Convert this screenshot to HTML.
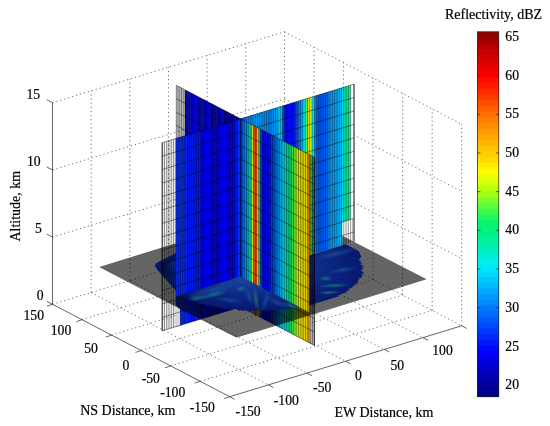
<!DOCTYPE html><html><head><meta charset="utf-8"><title>Reflectivity slices</title><style>html,body{margin:0;padding:0;background:#fff}svg{display:block}text{font-family:"Liberation Serif","Times New Roman",serif;stroke:#000;stroke-width:.2px}</style></head><body><svg width="550" height="426" viewBox="0 0 550 426" fill="#000"><path d="M91.16 292.49L268.38 384.88M129.83 280.67L307.04 373.07M168.5 268.86L345.71 361.25M207.16 257.04L384.37 349.44M245.82 245.23L423.03 337.62M284.49 233.41L461.7 325.81M52.5 304.3L284.49 233.41M82.03 319.7L314.03 248.81M111.57 335.1L343.56 264.21M141.11 350.5L373.1 279.61M170.64 365.9L402.63 295.01M200.18 381.3L432.17 310.41M91.16 292.49L91.16 90.89M129.83 280.67L129.83 79.07M168.5 268.86L168.5 67.26M207.16 257.04L207.16 55.44M245.82 245.23L245.82 43.63M284.49 233.41L284.49 31.81M52.5 237.1L284.49 166.21M52.5 169.9L284.49 99.01M52.5 102.7L284.49 31.81M314.03 248.81L314.03 47.21M343.56 264.21L343.56 62.61M373.1 279.61L373.1 78.01M402.63 295.01L402.63 93.41M432.17 310.41L432.17 108.81M461.7 325.81L461.7 124.21M284.49 166.21L461.7 258.61M284.49 99.01L461.7 191.41M284.49 31.81L461.7 124.21" stroke="#000" stroke-width="0.8" stroke-dasharray="1.2 2.9" stroke-opacity="0.7" fill="none"/>
<defs><clipPath id="cc"><path d="M-24 -105H24V-101.75H-24ZM-36 -102H36V-98.75H-36ZM-42 -99H42V-95.75H-42ZM-48 -96H48V-92.75H-48ZM-54 -93H54V-89.75H-54ZM-60 -90H60V-86.75H-60ZM-63 -87H63V-83.75H-63ZM-66 -84H66V-80.75H-66ZM-72 -81H72V-77.75H-72ZM-75 -78H75V-74.75H-75ZM-78 -75H78V-71.75H-78ZM-81 -72H81V-68.75H-81ZM-81 -69H81V-65.75H-81ZM-84 -66H84V-62.75H-84ZM-87 -63H87V-59.75H-87ZM-90 -60H90V-56.75H-90ZM-90 -57H90V-53.75H-90ZM-93 -54H93V-50.75H-93ZM-93 -51H93V-47.75H-93ZM-96 -48H96V-44.75H-96ZM-96 -45H96V-41.75H-96ZM-99 -42H99V-38.75H-99ZM-99 -39H99V-35.75H-99ZM-102 -36H102V-32.75H-102ZM-102 -33H102V-29.75H-102ZM-102 -30H102V-26.75H-102ZM-102 -27H102V-23.75H-102ZM-105 -24H105V-20.75H-105ZM-105 -21H105V-17.75H-105ZM-105 -18H105V-14.75H-105ZM-105 -15H105V-11.75H-105ZM-105 -12H105V-8.75H-105ZM-105 -9H105V-5.75H-105ZM-105 -6H105V-2.75H-105ZM-105 -3H105V0.25H-105ZM-105 0H105V3.25H-105ZM-105 3H105V6.25H-105ZM-105 6H105V9.25H-105ZM-105 9H105V12.25H-105ZM-105 12H105V15.25H-105ZM-105 15H105V18.25H-105ZM-105 18H105V21.25H-105ZM-105 21H105V24.25H-105ZM-102 24H102V27.25H-102ZM-102 27H102V30.25H-102ZM-102 30H102V33.25H-102ZM-102 33H102V36.25H-102ZM-99 36H99V39.25H-99ZM-99 39H99V42.25H-99ZM-96 42H96V45.25H-96ZM-96 45H96V48.25H-96ZM-93 48H93V51.25H-93ZM-93 51H93V54.25H-93ZM-90 54H90V57.25H-90ZM-90 57H90V60.25H-90ZM-87 60H87V63.25H-87ZM-84 63H84V66.25H-84ZM-81 66H81V69.25H-81ZM-81 69H81V72.25H-81ZM-78 72H78V75.25H-78ZM-75 75H75V78.25H-75ZM-72 78H72V81.25H-72ZM-66 81H66V84.25H-66ZM-63 84H63V87.25H-63ZM-60 87H60V90.25H-60ZM-54 90H54V93.25H-54ZM-48 93H48V96.25H-48ZM-42 96H42V99.25H-42ZM-36 99H36V102.25H-36ZM-24 102H24V105.25H-24ZM95.24 2.29L118.92 2.6L112.84 19.04L102.81 38.94L85.68 45.28L81.95 19.69Z"/></clipPath><clipPath id="ccs"><path d="M-24 -105H24V-101.75H-24ZM-36 -102H36V-98.75H-36ZM-42 -99H42V-95.75H-42ZM-48 -96H48V-92.75H-48ZM-54 -93H54V-89.75H-54ZM-60 -90H60V-86.75H-60ZM-63 -87H63V-83.75H-63ZM-66 -84H66V-80.75H-66ZM-72 -81H72V-77.75H-72ZM-75 -78H75V-74.75H-75ZM-78 -75H78V-71.75H-78ZM-81 -72H81V-68.75H-81ZM-81 -69H81V-65.75H-81ZM-84 -66H84V-62.75H-84ZM-87 -63H87V-59.75H-87ZM-90 -60H90V-56.75H-90ZM-90 -57H90V-53.75H-90ZM-93 -54H93V-50.75H-93ZM-93 -51H93V-47.75H-93ZM-96 -48H96V-44.75H-96ZM-96 -45H96V-41.75H-96ZM-99 -42H99V-38.75H-99ZM-99 -39H99V-35.75H-99ZM-102 -36H102V-32.75H-102ZM-102 -33H102V-29.75H-102ZM-102 -30H102V-26.75H-102ZM-102 -27H102V-23.75H-102ZM-105 -24H105V-20.75H-105ZM-105 -21H105V-17.75H-105ZM-105 -18H105V-14.75H-105ZM-105 -15H105V-11.75H-105ZM-105 -12H105V-8.75H-105ZM-105 -9H105V-5.75H-105ZM-105 -6H105V-2.75H-105ZM-105 -3H105V0.25H-105ZM-105 0H105V3.25H-105ZM-105 3H105V6.25H-105ZM-105 6H105V9.25H-105ZM-105 9H105V12.25H-105ZM-105 12H105V15.25H-105ZM-105 15H105V18.25H-105ZM-105 18H105V21.25H-105ZM-105 21H105V24.25H-105ZM-102 24H102V27.25H-102ZM-102 27H102V30.25H-102ZM-102 30H102V33.25H-102ZM-102 33H102V36.25H-102ZM-99 36H99V39.25H-99ZM-99 39H99V42.25H-99ZM-96 42H96V45.25H-96ZM-96 45H96V48.25H-96ZM-93 48H93V51.25H-93ZM-93 51H93V54.25H-93ZM-90 54H90V57.25H-90ZM-90 57H90V60.25H-90ZM-87 60H87V63.25H-87ZM-84 63H84V66.25H-84ZM-81 66H81V69.25H-81ZM-81 69H81V72.25H-81ZM-78 72H78V75.25H-78ZM-75 75H75V78.25H-75ZM-72 78H72V81.25H-72ZM-66 81H66V84.25H-66ZM-63 84H63V87.25H-63ZM-60 87H60V90.25H-60ZM-54 90H54V93.25H-54ZM-48 93H48V96.25H-48ZM-42 96H42V99.25H-42ZM-36 99H36V102.25H-36ZM-24 102H24V105.25H-24ZM95.24 2.29L118.92 2.6L112.84 19.04L102.81 38.94L85.68 45.28L81.95 19.69Z" transform="matrix(0.7733 -0.2363 0.5907 0.3080 259.00 269.30)"/></clipPath><radialGradient id="rg0" cx="0" cy="0" r="106.3" gradientUnits="userSpaceOnUse"><stop offset="0" stop-color="#2566d2"/><stop offset=".3" stop-color="#1c52c4"/><stop offset=".55" stop-color="#133aac"/><stop offset=".8" stop-color="#0d2a98"/><stop offset="1" stop-color="#0a2088"/></radialGradient><radialGradient id="bt"><stop offset="0" stop-color="#1f9a9a" stop-opacity="0.8"/><stop offset="1" stop-color="#1f9a9a" stop-opacity="0"/></radialGradient><radialGradient id="bl"><stop offset="0" stop-color="#2468c0" stop-opacity="0.7"/><stop offset="1" stop-color="#2468c0" stop-opacity="0"/></radialGradient><radialGradient id="bg"><stop offset="0" stop-color="#3fa070" stop-opacity="0.7"/><stop offset="1" stop-color="#3fa070" stop-opacity="0"/></radialGradient><radialGradient id="bd"><stop offset="0" stop-color="#06126a" stop-opacity="0.8"/><stop offset="1" stop-color="#06126a" stop-opacity="0"/></radialGradient><g id="hp"><polygon points="98.8,266.9 289.3,208.3 426.9,279.2 236.4,337.8" fill="#000" fill-opacity="0.51"/><g clip-path="url(#cut)"><g transform="matrix(0.7733 -0.2363 0.5907 0.3080 259.00 269.30)"><g clip-path="url(#cc)"><rect x="-110" y="-110" width="220" height="220" fill="url(#rg0)"/></g></g><g clip-path="url(#ccs)"><ellipse cx="215" cy="289.5" rx="32" ry="5" fill="url(#bl)" transform="rotate(-15 215 289.5)"/><ellipse cx="240.8" cy="289" rx="5.5" ry="3.2" fill="url(#bt)" transform="rotate(0 240.8 289)"/><ellipse cx="214" cy="294.5" rx="15" ry="3.2" fill="url(#bt)" transform="rotate(-14 214 294.5)"/><ellipse cx="197" cy="298" rx="12" ry="3" fill="url(#bt)" transform="rotate(-8 197 298)"/><ellipse cx="229" cy="300" rx="14" ry="3" fill="url(#bl)" transform="rotate(8 229 300)"/><ellipse cx="256" cy="299" rx="3" ry="13" fill="url(#bg)" transform="rotate(-8 256 299)"/><ellipse cx="249" cy="296" rx="3" ry="10" fill="url(#bl)" transform="rotate(-25 249 296)"/><ellipse cx="266" cy="300" rx="3.5" ry="12" fill="url(#bl)" transform="rotate(20 266 300)"/><ellipse cx="278" cy="303" rx="12" ry="3.5" fill="url(#bl)" transform="rotate(25 278 303)"/><ellipse cx="292" cy="306" rx="12" ry="3" fill="url(#bt)" transform="rotate(22 292 306)"/><ellipse cx="186" cy="297" rx="9" ry="4" fill="url(#bd)" transform="rotate(20 186 297)"/><ellipse cx="335" cy="254" rx="24" ry="4" fill="url(#bl)" transform="rotate(-14 335 254)"/><ellipse cx="326" cy="278.5" rx="7" ry="3" fill="url(#bt)" transform="rotate(0 326 278.5)"/><ellipse cx="334" cy="285.5" rx="17" ry="2.4" fill="url(#bt)" transform="rotate(-3 334 285.5)"/><ellipse cx="329" cy="292.5" rx="12" ry="2.2" fill="url(#bg)" transform="rotate(-3 329 292.5)"/><ellipse cx="343" cy="270" rx="14" ry="3" fill="url(#bl)" transform="rotate(-8 343 270)"/><ellipse cx="163" cy="268" rx="10" ry="9" fill="url(#bd)" transform="rotate(0 163 268)"/><ellipse cx="185" cy="262" rx="20" ry="6" fill="url(#bl)" transform="rotate(-15 185 262)"/></g></g><path d="M98.8 266.9L236.4 337.8M101.07 266.2L238.67 337.1M103.34 265.5L240.94 336.4M105.6 264.81L243.2 335.71M107.87 264.11L245.47 335.01M110.14 263.41L247.74 334.31M112.41 262.71L250.01 333.61M114.67 262.02L252.28 332.92M116.94 261.32L254.54 332.22M119.21 260.62L256.81 331.52M121.48 259.92L259.08 330.82M123.75 259.23L261.35 330.13M126.01 258.53L263.61 329.43M128.28 257.83L265.88 328.73M130.55 257.13L268.15 328.03M132.82 256.44L270.42 327.34M135.09 255.74L272.69 326.64M137.35 255.04L274.95 325.94M139.62 254.34L277.22 325.24M141.89 253.65L279.49 324.55M144.16 252.95L281.76 323.85M146.42 252.25L284.02 323.15M148.69 251.55L286.29 322.45M150.96 250.85L288.56 321.75M153.23 250.16L290.83 321.06M155.5 249.46L293.1 320.36M157.76 248.76L295.36 319.66M160.03 248.06L297.63 318.96M162.3 247.37L299.9 318.27M164.57 246.67L302.17 317.57M166.84 245.97L304.44 316.87M169.1 245.27L306.7 316.17M171.37 244.58L308.97 315.48M173.64 243.88L311.24 314.78M175.91 243.18L313.51 314.08M178.17 242.48L315.77 313.38M180.44 241.79L318.04 312.69M182.71 241.09L320.31 311.99M184.98 240.39L322.58 311.29M187.25 239.69L324.85 310.59M189.51 239L327.11 309.9M191.78 238.3L329.38 309.2M194.05 237.6L331.65 308.5M196.32 236.9L333.92 307.8M198.59 236.2L336.19 307.1M200.85 235.51L338.45 306.41M203.12 234.81L340.72 305.71M205.39 234.11L342.99 305.01M207.66 233.41L345.26 304.31M209.92 232.72L347.52 303.62M212.19 232.02L349.79 302.92M214.46 231.32L352.06 302.22M216.73 230.62L354.33 301.52M219 229.93L356.6 300.83M221.26 229.23L358.86 300.13M223.53 228.53L361.13 299.43M225.8 227.83L363.4 298.73M228.07 227.14L365.67 298.04M230.34 226.44L367.94 297.34M232.6 225.74L370.2 296.64M234.87 225.04L372.47 295.94M237.14 224.35L374.74 295.25M239.41 223.65L377.01 294.55M241.67 222.95L379.27 293.85M243.94 222.25L381.54 293.15M246.21 221.55L383.81 292.45M248.48 220.86L386.08 291.76M250.75 220.16L388.35 291.06M253.01 219.46L390.61 290.36M255.28 218.76L392.88 289.66M257.55 218.07L395.15 288.97M259.82 217.37L397.42 288.27M262.09 216.67L399.69 287.57M264.35 215.97L401.95 286.87M266.62 215.28L404.22 286.18M268.89 214.58L406.49 285.48M271.16 213.88L408.76 284.78M273.42 213.18L411.02 284.08M275.69 212.49L413.29 283.39M277.96 211.79L415.56 282.69M280.23 211.09L417.83 281.99M282.5 210.39L420.1 281.29M284.76 209.7L422.36 280.6M287.03 209L424.63 279.9M289.3 208.3L426.9 279.2M98.8 266.9L289.3 208.3M100.52 267.79L291.02 209.19M102.24 268.67L292.74 210.07M103.96 269.56L294.46 210.96M105.68 270.44L296.18 211.84M107.4 271.33L297.9 212.73M109.12 272.22L299.62 213.62M110.84 273.1L301.34 214.5M112.56 273.99L303.06 215.39M114.28 274.88L304.78 216.28M116 275.76L306.5 217.16M117.72 276.65L308.22 218.05M119.44 277.53L309.94 218.93M121.16 278.42L311.66 219.82M122.88 279.31L313.38 220.71M124.6 280.19L315.1 221.59M126.32 281.08L316.82 222.48M128.04 281.97L318.54 223.37M129.76 282.85L320.26 224.25M131.48 283.74L321.98 225.14M133.2 284.62L323.7 226.02M134.92 285.51L325.42 226.91M136.64 286.4L327.14 227.8M138.36 287.28L328.86 228.68M140.08 288.17L330.58 229.57M141.8 289.06L332.3 230.46M143.52 289.94L334.02 231.34M145.24 290.83L335.74 232.23M146.96 291.71L337.46 233.11M148.68 292.6L339.18 234M150.4 293.49L340.9 234.89M152.12 294.37L342.62 235.77M153.84 295.26L344.34 236.66M155.56 296.15L346.06 237.55M157.28 297.03L347.78 238.43M159 297.92L349.5 239.32M160.72 298.81L351.22 240.2M162.44 299.69L352.94 241.09M164.16 300.58L354.66 241.98M165.88 301.46L356.38 242.86M167.6 302.35L358.1 243.75M169.32 303.24L359.82 244.64M171.04 304.12L361.54 245.52M172.76 305.01L363.26 246.41M174.48 305.89L364.98 247.29M176.2 306.78L366.7 248.18M177.92 307.67L368.42 249.07M179.64 308.55L370.14 249.95M181.36 309.44L371.86 250.84M183.08 310.33L373.58 251.73M184.8 311.21L375.3 252.61M186.52 312.1L377.02 253.5M188.24 312.99L378.74 254.38M189.96 313.87L380.46 255.27M191.68 314.76L382.18 256.16M193.4 315.64L383.9 257.04M195.12 316.53L385.62 257.93M196.84 317.42L387.34 258.82M198.56 318.3L389.06 259.7M200.28 319.19L390.78 260.59M202 320.07L392.5 261.47M203.72 320.96L394.22 262.36M205.44 321.85L395.94 263.25M207.16 322.73L397.66 264.13M208.88 323.62L399.38 265.02M210.6 324.51L401.1 265.91M212.32 325.39L402.82 266.79M214.04 326.28L404.54 267.68M215.76 327.17L406.26 268.56M217.48 328.05L407.98 269.45M219.2 328.94L409.7 270.34M220.92 329.82L411.42 271.22M222.64 330.71L413.14 272.11M224.36 331.6L414.86 273M226.08 332.48L416.58 273.88M227.8 333.37L418.3 274.77M229.52 334.25L420.02 275.65M231.24 335.14L421.74 276.54M232.96 336.03L423.46 277.43M234.68 336.91L425.18 278.31M236.4 337.8L426.9 279.2" stroke="#000" stroke-width="0.5" stroke-opacity="0.32" fill="none"/></g><clipPath id="cut"><polygon points="153,264.8 177,252.5 177,190 440,190 440,350 181,350 181,296.5"/></clipPath><clipPath id="qBL"><polygon points="98.8,266.9 176.3,243 240.5,276.47 162.2,300.4"/></clipPath><clipPath id="qFR"><polygon points="240.5,276.47 354,241.79 426.9,279.2 314.3,314.96"/></clipPath><clipPath id="qFL"><polygon points="162.2,300.4 240.5,276.47 314.3,314.96 236.4,337.8"/></clipPath></defs>
<use href="#hp" clip-path="url(#qBL)"/>
<g><polygon points="176.3,85.3 178.03,86.2 178.03,243.9 176.3,243" fill="#000" fill-opacity="0.2"/><polygon points="178.03,86.2 179.77,87.11 179.77,244.81 178.03,243.9" fill="#000" fill-opacity="0.2"/><polygon points="179.77,87.11 181.5,88.01 181.5,245.71 179.77,244.81" fill="#000" fill-opacity="0.2"/><polygon points="181.5,88.01 183.24,88.92 183.24,246.62 181.5,245.71" fill="#000" fill-opacity="0.2"/><polygon points="183.24,88.92 184.97,89.82 184.97,247.52 183.24,246.62" fill="#000" fill-opacity="0.2"/><polygon points="184.97,89.82 187.05,90.91 187.05,248.61 184.97,247.52" fill="#0000f2"/><polygon points="186.7,90.72 188.79,91.81 188.79,249.51 186.7,248.42" fill="#0000f2"/><polygon points="188.44,91.63 190.52,92.72 190.52,250.42 188.44,249.33" fill="#0000f2"/><polygon points="190.17,92.53 192.26,93.62 192.26,251.32 190.17,250.23" fill="#0000f2"/><polygon points="191.91,93.44 193.99,94.52 193.99,252.22 191.91,251.14" fill="#0000f2"/><polygon points="193.64,94.34 195.72,95.43 195.72,253.13 193.64,252.04" fill="#0000e3"/><polygon points="195.37,95.25 197.46,96.33 197.46,254.03 195.37,252.95" fill="#0000e3"/><polygon points="197.11,96.15 199.19,97.24 199.19,254.94 197.11,253.85" fill="#0000e3"/><polygon points="198.84,97.05 200.93,98.14 200.93,255.84 198.84,254.75" fill="#0000e3"/><polygon points="200.58,97.96 202.66,99.04 202.66,256.74 200.58,255.66" fill="#0000e3"/><polygon points="202.31,98.86 204.39,99.95 204.39,257.65 202.31,256.56" fill="#0000e3"/><polygon points="204.04,99.77 206.13,100.85 206.13,258.55 204.04,257.47" fill="#0000d3"/><polygon points="205.78,100.67 207.86,101.76 207.86,259.46 205.78,258.37" fill="#0000d3"/><polygon points="207.51,101.57 209.6,102.66 209.6,260.36 207.51,259.27" fill="#0000d3"/><polygon points="209.25,102.48 211.33,103.56 211.33,261.26 209.25,260.18" fill="#0000d3"/><polygon points="210.98,103.38 213.06,104.47 213.06,262.17 210.98,261.08" fill="#0000d3"/><polygon points="212.71,104.29 214.8,105.37 214.8,263.07 212.71,261.99" fill="#0000d3"/><polygon points="214.45,105.19 216.53,106.28 216.53,263.98 214.45,262.89" fill="#0000c3"/><polygon points="216.18,106.09 218.27,107.18 218.27,264.88 216.18,263.79" fill="#0000c3"/><polygon points="217.92,107 220,108.09 220,265.79 217.92,264.7" fill="#0000c3"/><polygon points="219.65,107.9 221.73,108.99 221.73,266.69 219.65,265.6" fill="#0000c3"/><polygon points="221.38,108.81 223.47,109.89 223.47,267.59 221.38,266.51" fill="#0000c3"/><polygon points="223.12,109.71 225.2,110.8 225.2,268.5 223.12,267.41" fill="#0000b2"/><polygon points="224.85,110.62 226.94,111.7 226.94,269.4 224.85,268.32" fill="#0000b2"/><polygon points="226.59,111.52 228.67,112.61 228.67,270.31 226.59,269.22" fill="#0000b2"/><polygon points="228.32,112.42 230.4,113.51 230.4,271.21 228.32,270.12" fill="#0000b2"/><polygon points="230.05,113.33 232.14,114.41 232.14,272.11 230.05,271.03" fill="#0000b2"/><polygon points="231.79,114.23 233.87,115.32 233.87,273.02 231.79,271.93" fill="#0000a0"/><polygon points="233.52,115.14 235.61,116.22 235.61,273.92 233.52,272.84" fill="#0000a0"/><polygon points="235.26,116.04 237.34,117.13 237.34,274.83 235.26,273.74" fill="#0000a0"/><polygon points="236.99,116.94 239.07,118.03 239.07,275.73 236.99,274.64" fill="#0000a0"/><polygon points="238.72,117.85 240.81,118.94 240.81,276.64 238.72,275.55" fill="#0000a0"/><polygon points="240.46,118.75 240.5,118.77 240.5,276.47 240.46,276.45" fill="#0000a0"/><path d="M176.3 85.3L176.3 243M178.03 86.2L178.03 243.9M179.77 87.11L179.77 244.81M181.5 88.01L181.5 245.71M183.24 88.92L183.24 246.62M184.97 89.82L184.97 247.52M186.7 90.72L186.7 248.42M188.44 91.63L188.44 249.33M190.17 92.53L190.17 250.23M191.91 93.44L191.91 251.14M193.64 94.34L193.64 252.04M195.37 95.25L195.37 252.95M197.11 96.15L197.11 253.85M198.84 97.05L198.84 254.75M200.58 97.96L200.58 255.66M202.31 98.86L202.31 256.56M204.04 99.77L204.04 257.47M205.78 100.67L205.78 258.37M207.51 101.57L207.51 259.27M209.25 102.48L209.25 260.18M210.98 103.38L210.98 261.08M212.71 104.29L212.71 261.99M214.45 105.19L214.45 262.89M216.18 106.09L216.18 263.79M217.92 107L217.92 264.7M219.65 107.9L219.65 265.6M221.38 108.81L221.38 266.51M223.12 109.71L223.12 267.41M224.85 110.62L224.85 268.32M226.59 111.52L226.59 269.22M228.32 112.42L228.32 270.12M230.05 113.33L230.05 271.03M231.79 114.23L231.79 271.93M233.52 115.14L233.52 272.84M235.26 116.04L235.26 273.74M236.99 116.94L236.99 274.64M238.72 117.85L238.72 275.55M240.5 118.77L240.5 276.47" stroke="#000" stroke-width="0.7" stroke-opacity="0.62" fill="none"/><path d="M176.3 85.3L240.5 118.77M176.3 98.74L240.5 132.21M176.3 112.18L240.5 145.65M176.3 125.62L240.5 159.09M176.3 139.06L240.5 172.53M176.3 152.5L240.5 185.97M176.3 165.94L240.5 199.41M176.3 179.38L240.5 212.85M176.3 192.82L240.5 226.29M176.3 206.26L240.5 239.73M176.3 219.7L240.5 253.17M176.3 233.14L240.5 266.61" stroke="#000" stroke-width="0.7" stroke-opacity="0.62" fill="none"/></g>
<clipPath id="c1r"><polygon points="240.5,117.77 355,83.09 355,241.79 240.5,276.47"/></clipPath>
<g clip-path="url(#c1r)"><polygon points="240.5,118.77 242,118.32 242,276.02 240.5,276.47" fill="#0049fa"/><polygon points="241.65,118.42 244.27,117.62 244.27,275.32 241.65,276.12" fill="#005afa"/><polygon points="243.92,117.73 246.54,116.93 246.54,274.63 243.92,275.43" fill="#006afa"/><polygon points="246.19,117.03 248.81,116.23 248.81,273.93 246.19,274.73" fill="#007afa"/><polygon points="248.46,116.34 251.08,115.54 251.08,273.24 248.46,274.04" fill="#008afa"/><polygon points="250.73,115.65 253.35,114.85 253.35,272.55 250.73,273.35" fill="#008afa"/><polygon points="253,114.95 255.62,114.15 255.62,271.85 253,272.65" fill="#009afb"/><polygon points="255.27,114.26 257.89,113.46 257.89,271.16 255.27,271.96" fill="#009afb"/><polygon points="257.54,113.57 260.16,112.77 260.16,270.47 257.54,271.27" fill="#009afb"/><polygon points="259.81,112.87 262.43,112.07 262.43,269.77 259.81,270.57" fill="#009afb"/><polygon points="262.08,112.18 264.7,111.38 264.7,269.08 262.08,269.88" fill="#008afa"/><polygon points="264.35,111.49 266.97,110.69 266.97,268.39 264.35,269.19" fill="#008afa"/><polygon points="266.62,110.79 269.24,109.99 269.24,267.69 266.62,268.49" fill="#008afa"/><polygon points="268.89,110.1 271.51,109.3 271.51,267 268.89,267.8" fill="#008afa"/><polygon points="271.16,109.4 273.78,108.6 273.78,266.3 271.16,267.1" fill="#008afa"/><polygon points="273.43,108.71 276.05,107.91 276.05,265.61 273.43,266.41" fill="#009afb"/><polygon points="275.7,108.02 278.32,107.22 278.32,264.92 275.7,265.72" fill="#00a9fb"/><polygon points="277.97,107.32 280.59,106.52 280.59,264.22 277.97,265.02" fill="#00d8fc"/><polygon points="280.24,106.63 282.86,105.83 282.86,263.53 280.24,264.33" fill="#00b9fc"/><polygon points="282.51,105.94 285.13,105.14 285.13,262.84 282.51,263.64" fill="#0039fa"/><polygon points="284.78,105.24 287.4,104.44 287.4,262.14 284.78,262.94" fill="#0008fa"/><polygon points="287.05,104.55 289.67,103.75 289.67,261.45 287.05,262.25" fill="#0008fa"/><polygon points="289.32,103.86 291.94,103.05 291.94,260.75 289.32,261.56" fill="#0008fa"/><polygon points="291.59,103.16 294.21,102.36 294.21,260.06 291.59,260.86" fill="#0008fa"/><polygon points="293.86,102.47 296.48,101.67 296.48,259.37 293.86,260.17" fill="#0029fa"/><polygon points="296.13,101.77 298.75,100.97 298.75,258.67 296.13,259.47" fill="#0049fa"/><polygon points="298.4,101.08 301.02,100.28 301.02,257.98 298.4,258.78" fill="#007afa"/><polygon points="300.67,100.39 303.29,99.59 303.29,257.29 300.67,258.09" fill="#00a9fb"/><polygon points="302.94,99.69 305.56,98.89 305.56,256.59 302.94,257.39" fill="#00eef0"/><polygon points="305.21,99 307.83,98.2 307.83,255.9 305.21,256.7" fill="#3cf94e"/><polygon points="307.48,98.31 310.1,97.51 310.1,255.21 307.48,256.01" fill="#ffce00"/><polygon points="309.75,97.61 312.37,96.81 312.37,254.51 309.75,255.31" fill="#d4ff05"/><polygon points="312.02,96.92 314.64,96.12 314.64,253.82 312.02,254.62" fill="#00eef0"/><polygon points="314.29,96.23 316.91,95.42 316.91,253.12 314.29,253.93" fill="#007afa"/><polygon points="316.56,95.53 319.18,94.73 319.18,252.43 316.56,253.23" fill="#005afa"/><polygon points="318.83,94.84 321.45,94.04 321.45,251.74 318.83,252.54" fill="#005afa"/><polygon points="321.1,94.14 323.72,93.34 323.72,251.04 321.1,251.84" fill="#005afa"/><polygon points="323.37,93.45 325.99,92.65 325.99,250.35 323.37,251.15" fill="#005afa"/><polygon points="325.64,92.76 328.26,91.96 328.26,249.66 325.64,250.46" fill="#006afa"/><polygon points="327.91,92.06 330.53,91.26 330.53,248.96 327.91,249.76" fill="#008afa"/><polygon points="330.18,91.37 332.8,90.57 332.8,248.27 330.18,249.07" fill="#009afb"/><polygon points="332.45,90.68 335.07,89.88 335.07,247.58 332.45,248.38" fill="#009afb"/><polygon points="334.72,89.98 337.34,89.18 337.34,246.88 334.72,247.68" fill="#00a9fb"/><polygon points="336.99,89.29 339.61,88.49 339.61,246.19 336.99,246.99" fill="#00b9fc"/><polygon points="339.26,88.6 341.88,87.79 341.88,245.49 339.26,246.3" fill="#00b9fc"/><polygon points="341.53,87.9 344.15,87.1 344.15,244.8 341.53,245.6" fill="#00d8fc"/><polygon points="343.8,87.21 346.42,86.41 346.42,244.11 343.8,244.91" fill="#00efb1"/><polygon points="346.07,86.51 348.69,85.71 348.69,243.41 346.07,244.21" fill="#00f18c"/><polygon points="348.34,85.82 350.96,85.02 350.96,242.72 348.34,243.52" fill="#00f09e"/><polygon points="350.61,85.13 353.23,84.33 353.23,242.03 350.61,242.83" fill="#fff"/><polygon points="352.88,84.43 354,84.09 354,241.79 352.88,242.13" fill="#fff"/><path d="M240.5 118.77L240.5 276.47M241.65 118.42L241.65 276.12M243.92 117.73L243.92 275.43M246.19 117.03L246.19 274.73M248.46 116.34L248.46 274.04M250.73 115.65L250.73 273.35M253 114.95L253 272.65M255.27 114.26L255.27 271.96M257.54 113.57L257.54 271.27M259.81 112.87L259.81 270.57M262.08 112.18L262.08 269.88M264.35 111.49L264.35 269.19M266.62 110.79L266.62 268.49M268.89 110.1L268.89 267.8M271.16 109.4L271.16 267.1M273.43 108.71L273.43 266.41M275.7 108.02L275.7 265.72M277.97 107.32L277.97 265.02M280.24 106.63L280.24 264.33M282.51 105.94L282.51 263.64M284.78 105.24L284.78 262.94M287.05 104.55L287.05 262.25M289.32 103.86L289.32 261.56M291.59 103.16L291.59 260.86M293.86 102.47L293.86 260.17M296.13 101.77L296.13 259.47M298.4 101.08L298.4 258.78M300.67 100.39L300.67 258.09M302.94 99.69L302.94 257.39M305.21 99L305.21 256.7M307.48 98.31L307.48 256.01M309.75 97.61L309.75 255.31M312.02 96.92L312.02 254.62M314.29 96.23L314.29 253.93M316.56 95.53L316.56 253.23M318.83 94.84L318.83 252.54M321.1 94.14L321.1 251.84M323.37 93.45L323.37 251.15M325.64 92.76L325.64 250.46M327.91 92.06L327.91 249.76M330.18 91.37L330.18 249.07M332.45 90.68L332.45 248.38M334.72 89.98L334.72 247.68M336.99 89.29L336.99 246.99M339.26 88.6L339.26 246.3M341.53 87.9L341.53 245.6M343.8 87.21L343.8 244.91M346.07 86.51L346.07 244.21M348.34 85.82L348.34 243.52M350.61 85.13L350.61 242.83M354 84.09L354 241.79" stroke="#000" stroke-width="0.7" stroke-opacity="0.58" fill="none"/>
<polygon points="342.2,222.1 354,218.49 354,241.79 342.2,245.4" fill="#fff"/>
<clipPath id="nb"><polygon points="342.2,222.1 354,218.49 354,241.79 342.2,245.4"/></clipPath><clipPath id="qBR"><polygon points="240.5,276.47 176.3,243 289.3,208.3 354,241.79"/></clipPath>
<g clip-path="url(#nb)"><use href="#hp" clip-path="url(#qBR)"/></g>
<path d="M343.8 221.61L343.8 244.91M346.07 220.91L346.07 244.21M348.34 220.22L348.34 243.52M350.61 219.53L350.61 242.83M352.88 218.83L352.88 242.13" stroke="#000" stroke-width="0.7" stroke-opacity="0.6" fill="none"/>
<path d="M240.5 118.77L354 84.09M240.5 132.21L354 97.53M240.5 145.65L354 110.97M240.5 159.09L354 124.41M240.5 172.53L354 137.85M240.5 185.97L354 151.29M240.5 199.41L354 164.73M240.5 212.85L354 178.17M240.5 226.29L354 191.61M240.5 239.73L354 205.05M240.5 253.17L354 218.49M240.5 266.61L354 231.93" stroke="#000" stroke-width="0.7" stroke-opacity="0.62" fill="none"/>
<path d="M354 84.09L354 241.79" stroke="#000" stroke-width="0.9" stroke-opacity=".8" fill="none"/>
</g>
<use href="#hp" clip-path="url(#qFR)"/>
<g><polygon points="162.2,142.7 164.47,142.01 164.47,330.17 162.2,330.86" fill="#000" fill-opacity="0.07"/><polygon points="164.47,142.01 166.74,141.31 166.74,329.47 164.47,330.17" fill="#000" fill-opacity="0.07"/><polygon points="166.74,141.31 169.01,140.62 169.01,328.78 166.74,329.47" fill="#000" fill-opacity="0.07"/><polygon points="169.01,140.62 171.28,139.93 171.28,328.09 169.01,328.78" fill="#000" fill-opacity="0.07"/><polygon points="171.28,139.93 173.55,139.23 173.55,327.39 171.28,328.09" fill="#000" fill-opacity="0.07"/><polygon points="173.55,139.23 175.82,138.54 175.82,326.7 173.55,327.39" fill="#000" fill-opacity="0.07"/><polygon points="175.82,138.54 178.44,137.74 178.44,325.9 175.82,326.7" fill="#0029fa"/><polygon points="178.09,137.84 180.71,137.04 180.71,325.2 178.09,326" fill="#0029fa"/><polygon points="180.36,137.15 182.98,136.35 182.98,324.51 180.36,325.31" fill="#0029fa"/><polygon points="182.63,136.46 185.25,135.66 185.25,323.82 182.63,324.62" fill="#0029fa"/><polygon points="184.9,135.76 187.52,134.96 187.52,323.12 184.9,323.92" fill="#0029fa"/><polygon points="187.17,135.07 189.79,134.27 189.79,322.43 187.17,323.23" fill="#0018fa"/><polygon points="189.44,134.38 192.06,133.58 192.06,321.74 189.44,322.54" fill="#0018fa"/><polygon points="191.71,133.68 194.33,132.88 194.33,321.04 191.71,321.84" fill="#0018fa"/><polygon points="193.98,132.99 196.6,132.19 196.6,320.35 193.98,321.15" fill="#0018fa"/><polygon points="196.25,132.3 198.87,131.49 198.87,319.65 196.25,320.46" fill="#0018fa"/><polygon points="198.52,131.6 201.14,130.8 201.14,318.96 198.52,319.76" fill="#0018fa"/><polygon points="200.79,130.91 203.41,130.11 203.41,318.27 200.79,319.07" fill="#0000f2"/><polygon points="203.06,130.21 205.68,129.41 205.68,317.57 203.06,318.37" fill="#0000f2"/><polygon points="205.33,129.52 207.95,128.72 207.95,316.88 205.33,317.68" fill="#0000f2"/><polygon points="207.6,128.83 210.22,128.03 210.22,316.19 207.6,316.99" fill="#0000f2"/><polygon points="209.87,128.13 212.49,127.33 212.49,315.49 209.87,316.29" fill="#0000f2"/><polygon points="212.14,127.44 214.76,126.64 214.76,314.8 212.14,315.6" fill="#0000f2"/><polygon points="214.41,126.75 217.03,125.95 217.03,314.11 214.41,314.91" fill="#0000f2"/><polygon points="216.68,126.05 219.3,125.25 219.3,313.41 216.68,314.21" fill="#0000f2"/><polygon points="218.95,125.36 221.57,124.56 221.57,312.72 218.95,313.52" fill="#0000f2"/><polygon points="221.22,124.67 223.84,123.86 223.84,312.02 221.22,312.83" fill="#0000f2"/><polygon points="223.49,123.97 226.11,123.17 226.11,311.33 223.49,312.13" fill="#0000f2"/><polygon points="225.76,123.28 228.38,122.48 228.38,310.64 225.76,311.44" fill="#0000f2"/><polygon points="228.03,122.58 230.65,121.78 230.65,309.94 228.03,310.74" fill="#0000f2"/><polygon points="230.3,121.89 232.92,121.09 232.92,309.25 230.3,310.05" fill="#0000f2"/><polygon points="232.57,121.2 235.19,120.4 235.19,308.56 232.57,309.36" fill="#0000f2"/><polygon points="234.84,120.5 237.46,119.7 237.46,307.86 234.84,308.66" fill="#0018fa"/><polygon points="237.11,119.81 239.73,119.01 239.73,307.17 237.11,307.97" fill="#0029fa"/><polygon points="239.38,119.12 240.5,118.77 240.5,306.93 239.38,307.28" fill="#0039fa"/><path d="M162.2 142.7L162.2 330.86M164.47 142.01L164.47 330.17M166.74 141.31L166.74 329.47M169.01 140.62L169.01 328.78M171.28 139.93L171.28 328.09M173.55 139.23L173.55 327.39M175.82 138.54L175.82 326.7M178.09 137.84L178.09 326M180.36 137.15L180.36 325.31M182.63 136.46L182.63 324.62M184.9 135.76L184.9 323.92M187.17 135.07L187.17 323.23M189.44 134.38L189.44 322.54M191.71 133.68L191.71 321.84M193.98 132.99L193.98 321.15M196.25 132.3L196.25 320.46M198.52 131.6L198.52 319.76M200.79 130.91L200.79 319.07M203.06 130.21L203.06 318.37M205.33 129.52L205.33 317.68M207.6 128.83L207.6 316.99M209.87 128.13L209.87 316.29M212.14 127.44L212.14 315.6M214.41 126.75L214.41 314.91M216.68 126.05L216.68 314.21M218.95 125.36L218.95 313.52M221.22 124.67L221.22 312.83M223.49 123.97L223.49 312.13M225.76 123.28L225.76 311.44M228.03 122.58L228.03 310.74M230.3 121.89L230.3 310.05M232.57 121.2L232.57 309.36M234.84 120.5L234.84 308.66M237.11 119.81L237.11 307.97M240.5 118.77L240.5 306.93" stroke="#000" stroke-width="0.7" stroke-opacity="0.58" fill="none"/>
<polygon points="175,304.1 180,309.29 180,325.42 175,326.95" fill="#d8d8d8"/>
<path d="M162.2 142.7L240.5 118.77M162.2 156.14L240.5 132.21M162.2 169.58L240.5 145.65M162.2 183.02L240.5 159.09M162.2 196.46L240.5 172.53M162.2 209.9L240.5 185.97M162.2 223.34L240.5 199.41M162.2 236.78L240.5 212.85M162.2 250.22L240.5 226.29M162.2 263.66L240.5 239.73M162.2 277.1L240.5 253.17M162.2 290.54L240.5 266.61M162.2 303.98L240.5 280.05M162.2 317.42L240.5 293.49M162.2 330.86L240.5 306.93" stroke="#000" stroke-width="0.7" stroke-opacity="0.62" fill="none"/>
<path d="M162.2 142.7L162.2 330.86" stroke="#000" stroke-width="0.9" stroke-opacity=".8" fill="none"/>
</g>
<g><polygon points="240.5,118.77 241.68,119.39 241.68,307.55 240.5,306.93" fill="#0039fa"/><polygon points="241.33,119.21 243.41,120.29 243.41,308.45 241.33,307.37" fill="#005afa"/><polygon points="243.06,120.11 245.15,121.2 245.15,309.36 243.06,308.27" fill="#008afa"/><polygon points="244.8,121.01 246.88,122.1 246.88,310.26 244.8,309.17" fill="#009afb"/><polygon points="246.53,121.92 248.61,123.01 248.61,311.17 246.53,310.08" fill="#00a9fb"/><polygon points="248.26,122.82 250.35,123.91 250.35,312.07 248.26,310.98" fill="#00e7fc"/><polygon points="250,123.73 252.08,124.81 252.08,312.97 250,311.89" fill="#00f09e"/><polygon points="251.73,124.63 253.82,125.72 253.82,313.88 251.73,312.79" fill="#e9fe00"/><polygon points="253.47,125.54 255.55,126.62 255.55,314.78 253.47,313.7" fill="#ff4c00"/><polygon points="255.2,126.44 257.28,127.53 257.28,315.69 255.2,314.6" fill="#ff4c00"/><polygon points="256.93,127.34 259.02,128.43 259.02,316.59 256.93,315.5" fill="#e9fe00"/><polygon points="258.67,128.25 260.75,129.33 260.75,317.49 258.67,316.41" fill="#00b9fc"/><polygon points="260.4,129.15 262.49,130.24 262.49,318.4 260.4,317.31" fill="#0039fa"/><polygon points="262.14,130.06 264.22,131.14 264.22,319.3 262.14,318.22" fill="#0008fa"/><polygon points="263.87,130.96 265.95,132.05 265.95,320.21 263.87,319.12" fill="#0000f2"/><polygon points="265.6,131.86 267.69,132.95 267.69,321.11 265.6,320.02" fill="#0008fa"/><polygon points="267.34,132.77 269.42,133.85 269.42,322.01 267.34,320.93" fill="#0008fa"/><polygon points="269.07,133.67 271.16,134.76 271.16,322.92 269.07,321.83" fill="#0018fa"/><polygon points="270.81,134.58 272.89,135.66 272.89,323.82 270.81,322.74" fill="#0039fa"/><polygon points="272.54,135.48 274.62,136.57 274.62,324.73 272.54,323.64" fill="#0049fa"/><polygon points="274.27,136.38 276.36,137.47 276.36,325.63 274.27,324.54" fill="#006afa"/><polygon points="276.01,137.29 278.09,138.38 278.09,326.54 276.01,325.45" fill="#008afa"/><polygon points="277.74,138.19 279.82,139.28 279.82,327.44 277.74,326.35" fill="#009afb"/><polygon points="279.47,139.1 281.56,140.18 281.56,328.34 279.47,327.26" fill="#00b9fc"/><polygon points="281.21,140 283.29,141.09 283.29,329.25 281.21,328.16" fill="#00d8fc"/><polygon points="282.94,140.91 285.03,141.99 285.03,330.15 282.94,329.07" fill="#00eef0"/><polygon points="284.68,141.81 286.76,142.9 286.76,331.06 284.68,329.97" fill="#00eec4"/><polygon points="286.41,142.71 288.49,143.8 288.49,331.96 286.41,330.87" fill="#00efb1"/><polygon points="288.14,143.62 290.23,144.7 290.23,332.86 288.14,331.78" fill="#00f18c"/><polygon points="289.88,144.52 291.96,145.61 291.96,333.77 289.88,332.68" fill="#0af46b"/><polygon points="291.61,145.43 293.7,146.51 293.7,334.67 291.61,333.59" fill="#3cf94e"/><polygon points="293.35,146.33 295.43,147.42 295.43,335.58 293.35,334.49" fill="#7ffd2a"/><polygon points="295.08,147.23 297.16,148.32 297.16,336.48 295.08,335.39" fill="#baff0f"/><polygon points="296.81,148.14 298.9,149.22 298.9,337.38 296.81,336.3" fill="#e9fe00"/><polygon points="298.55,149.04 300.63,150.13 300.63,338.29 298.55,337.2" fill="#fafb00"/><polygon points="300.28,149.95 302.37,151.03 302.37,339.19 300.28,338.11" fill="#fafb00"/><polygon points="302.02,150.85 304.1,151.94 304.1,340.1 302.02,339.01" fill="#ffed00"/><polygon points="303.75,151.75 305.83,152.84 305.83,341 303.75,339.91" fill="#ffed00"/><polygon points="305.48,152.66 307.57,153.75 307.57,341.91 305.48,340.82" fill="#ffed00"/><polygon points="307.22,153.56 309.3,154.65 309.3,342.81 307.22,341.72" fill="#ffaa00"/><polygon points="308.95,154.47 310.69,155.37 310.69,343.53 308.95,342.63" fill="#000" fill-opacity="0.2"/><polygon points="310.69,155.37 312.42,156.28 312.42,344.44 310.69,343.53" fill="#000" fill-opacity="0.2"/><polygon points="312.42,156.28 314.15,157.18 314.15,345.34 312.42,344.44" fill="#000" fill-opacity="0.2"/><polygon points="314.15,157.18 314.3,157.26 314.3,345.42 314.15,345.34" fill="#000" fill-opacity="0.2"/><path d="M240.5 118.77L240.5 306.93M241.33 119.21L241.33 307.37M243.06 120.11L243.06 308.27M244.8 121.01L244.8 309.17M246.53 121.92L246.53 310.08M248.26 122.82L248.26 310.98M250 123.73L250 311.89M251.73 124.63L251.73 312.79M253.47 125.54L253.47 313.7M255.2 126.44L255.2 314.6M256.93 127.34L256.93 315.5M258.67 128.25L258.67 316.41M260.4 129.15L260.4 317.31M262.14 130.06L262.14 318.22M263.87 130.96L263.87 319.12M265.6 131.86L265.6 320.02M267.34 132.77L267.34 320.93M269.07 133.67L269.07 321.83M270.81 134.58L270.81 322.74M272.54 135.48L272.54 323.64M274.27 136.38L274.27 324.54M276.01 137.29L276.01 325.45M277.74 138.19L277.74 326.35M279.47 139.1L279.47 327.26M281.21 140L281.21 328.16M282.94 140.91L282.94 329.07M284.68 141.81L284.68 329.97M286.41 142.71L286.41 330.87M288.14 143.62L288.14 331.78M289.88 144.52L289.88 332.68M291.61 145.43L291.61 333.59M293.35 146.33L293.35 334.49M295.08 147.23L295.08 335.39M296.81 148.14L296.81 336.3M298.55 149.04L298.55 337.2M300.28 149.95L300.28 338.11M302.02 150.85L302.02 339.01M303.75 151.75L303.75 339.91M305.48 152.66L305.48 340.82M307.22 153.56L307.22 341.72M308.95 154.47L308.95 342.63M310.69 155.37L310.69 343.53M312.42 156.28L312.42 344.44M314.3 157.26L314.3 345.42" stroke="#000" stroke-width="0.7" stroke-opacity="0.68" fill="none"/><path d="M240.5 118.77L314.3 157.26M240.5 132.21L314.3 170.7M240.5 145.65L314.3 184.14M240.5 159.09L314.3 197.58M240.5 172.53L314.3 211.02M240.5 185.97L314.3 224.46M240.5 199.41L314.3 237.9M240.5 212.85L314.3 251.34M240.5 226.29L314.3 264.78M240.5 239.73L314.3 278.22M240.5 253.17L314.3 291.66M240.5 266.61L314.3 305.1M240.5 280.05L314.3 318.54M240.5 293.49L314.3 331.98M240.5 306.93L314.3 345.42" stroke="#000" stroke-width="0.7" stroke-opacity="0.62" fill="none"/>
<path d="M314.3 157.26L314.3 345.42" stroke="#000" stroke-width="0.9" stroke-opacity=".8" fill="none"/>
</g>
<use href="#hp" clip-path="url(#qFL)"/>
<path d="M52.5 304.3L52.5 102.7M52.5 304.3L229.71 396.7M229.71 396.7L461.7 325.81M52.5 304.3L46.8 301.4M52.5 237.1L46.8 234.2M52.5 169.9L46.8 167M52.5 102.7L46.8 99.8M52.5 304.3L46.9 306.2M82.03 319.7L76.44 321.6M111.57 335.1L105.97 337M141.11 350.5L135.51 352.4M170.64 365.9L165.04 367.8M200.18 381.3L194.58 383.2M229.71 396.7L224.11 398.6M229.71 396.7L234.71 399.3M268.38 384.88L273.38 387.49M307.04 373.07L312.04 375.67M345.71 361.25L350.71 363.86M384.37 349.44L389.37 352.04M423.03 337.62L428.03 340.23M461.7 325.81L466.7 328.41" stroke="#222" stroke-width="0.7" fill="none"/>
<rect x="477.4" y="31.8" width="21.4" height="365" fill="#910000"/><rect x="477.4" y="37.5" width="21.4" height="359.3" fill="#a20000"/><rect x="477.4" y="43.21" width="21.4" height="353.59" fill="#b30000"/><rect x="477.4" y="48.91" width="21.4" height="347.89" fill="#c40000"/><rect x="477.4" y="54.61" width="21.4" height="342.19" fill="#d10100"/><rect x="477.4" y="60.32" width="21.4" height="336.48" fill="#de0200"/><rect x="477.4" y="66.02" width="21.4" height="330.78" fill="#ea0300"/><rect x="477.4" y="71.72" width="21.4" height="325.08" fill="#f70400"/><rect x="477.4" y="77.43" width="21.4" height="319.38" fill="#fc0d00"/><rect x="477.4" y="83.13" width="21.4" height="313.67" fill="#fd1c00"/><rect x="477.4" y="88.83" width="21.4" height="307.97" fill="#fe2b00"/><rect x="477.4" y="94.53" width="21.4" height="302.27" fill="#ff3a00"/><rect x="477.4" y="100.24" width="21.4" height="296.56" fill="#ff4c00"/><rect x="477.4" y="105.94" width="21.4" height="290.86" fill="#ff5e00"/><rect x="477.4" y="111.64" width="21.4" height="285.16" fill="#ff7100"/><rect x="477.4" y="117.35" width="21.4" height="279.45" fill="#ff7f00"/><rect x="477.4" y="123.05" width="21.4" height="273.75" fill="#ff8d00"/><rect x="477.4" y="128.75" width="21.4" height="268.05" fill="#ff9b00"/><rect x="477.4" y="134.46" width="21.4" height="262.34" fill="#ffaa00"/><rect x="477.4" y="140.16" width="21.4" height="256.64" fill="#ffb600"/><rect x="477.4" y="145.86" width="21.4" height="250.94" fill="#ffc200"/><rect x="477.4" y="151.57" width="21.4" height="245.23" fill="#ffce00"/><rect x="477.4" y="157.27" width="21.4" height="239.53" fill="#ffdb00"/><rect x="477.4" y="162.97" width="21.4" height="233.83" fill="#ffed00"/><rect x="477.4" y="168.68" width="21.4" height="228.12" fill="#fafb00"/><rect x="477.4" y="174.38" width="21.4" height="222.42" fill="#e9fe00"/><rect x="477.4" y="180.08" width="21.4" height="216.72" fill="#d4ff05"/><rect x="477.4" y="185.78" width="21.4" height="211.02" fill="#baff0f"/><rect x="477.4" y="191.49" width="21.4" height="205.31" fill="#9fff1a"/><rect x="477.4" y="197.19" width="21.4" height="199.61" fill="#7ffd2a"/><rect x="477.4" y="202.89" width="21.4" height="193.91" fill="#5dfb3d"/><rect x="477.4" y="208.6" width="21.4" height="188.2" fill="#3cf94e"/><rect x="477.4" y="214.3" width="21.4" height="182.5" fill="#1ff75d"/><rect x="477.4" y="220" width="21.4" height="176.8" fill="#0af46b"/><rect x="477.4" y="225.71" width="21.4" height="171.09" fill="#04f37b"/><rect x="477.4" y="231.41" width="21.4" height="165.39" fill="#00f18c"/><rect x="477.4" y="237.11" width="21.4" height="159.69" fill="#00f09e"/><rect x="477.4" y="242.82" width="21.4" height="153.98" fill="#00efb1"/><rect x="477.4" y="248.52" width="21.4" height="148.28" fill="#00eec4"/><rect x="477.4" y="254.22" width="21.4" height="142.58" fill="#00eeda"/><rect x="477.4" y="259.93" width="21.4" height="136.88" fill="#00eef0"/><rect x="477.4" y="265.63" width="21.4" height="131.17" fill="#00e7fc"/><rect x="477.4" y="271.33" width="21.4" height="125.47" fill="#00d8fc"/><rect x="477.4" y="277.03" width="21.4" height="119.77" fill="#00c8fc"/><rect x="477.4" y="282.74" width="21.4" height="114.06" fill="#00b9fc"/><rect x="477.4" y="288.44" width="21.4" height="108.36" fill="#00a9fb"/><rect x="477.4" y="294.14" width="21.4" height="102.66" fill="#009afb"/><rect x="477.4" y="299.85" width="21.4" height="96.95" fill="#008afa"/><rect x="477.4" y="305.55" width="21.4" height="91.25" fill="#007afa"/><rect x="477.4" y="311.25" width="21.4" height="85.55" fill="#006afa"/><rect x="477.4" y="316.96" width="21.4" height="79.84" fill="#005afa"/><rect x="477.4" y="322.66" width="21.4" height="74.14" fill="#0049fa"/><rect x="477.4" y="328.36" width="21.4" height="68.44" fill="#0039fa"/><rect x="477.4" y="334.07" width="21.4" height="62.73" fill="#0029fa"/><rect x="477.4" y="339.77" width="21.4" height="57.03" fill="#0018fa"/><rect x="477.4" y="345.47" width="21.4" height="51.33" fill="#0008fa"/><rect x="477.4" y="351.18" width="21.4" height="45.62" fill="#0000f2"/><rect x="477.4" y="356.88" width="21.4" height="39.92" fill="#0000e3"/><rect x="477.4" y="362.58" width="21.4" height="34.22" fill="#0000d3"/><rect x="477.4" y="368.28" width="21.4" height="28.52" fill="#0000c3"/><rect x="477.4" y="373.99" width="21.4" height="22.81" fill="#0000b2"/><rect x="477.4" y="379.69" width="21.4" height="17.11" fill="#0000a0"/><rect x="477.4" y="385.39" width="21.4" height="11.41" fill="#000093"/><rect x="477.4" y="391.1" width="21.4" height="5.7" fill="#00008b"/>
<rect x="477.4" y="31.8" width="21.4" height="365" fill="none" stroke="#222" stroke-width="0.7"/>
<path d="M477.4 385.1h3M498.8 385.1h-3M477.4 346.4h3M498.8 346.4h-3M477.4 307.7h3M498.8 307.7h-3M477.4 269h3M498.8 269h-3M477.4 230.3h3M498.8 230.3h-3M477.4 191.6h3M498.8 191.6h-3M477.4 152.9h3M498.8 152.9h-3M477.4 114.2h3M498.8 114.2h-3M477.4 75.5h3M498.8 75.5h-3M477.4 36.8h3M498.8 36.8h-3" stroke="#222" stroke-width="0.7" fill="none"/>
<g font-size="13.7"><text x="505.3" y="389.2">20</text><text x="505.3" y="350.5">25</text><text x="505.3" y="311.8">30</text><text x="505.3" y="273.1">35</text><text x="505.3" y="234.4">40</text><text x="505.3" y="195.7">45</text><text x="505.3" y="157">50</text><text x="505.3" y="118.3">55</text><text x="505.3" y="79.6">60</text><text x="505.3" y="40.9">65</text><text x="40.2" y="98.8" text-anchor="end">15</text><text x="40.6" y="165.9" text-anchor="end">10</text><text x="41.8" y="233" text-anchor="end">5</text><text x="43.6" y="300.3" text-anchor="end">0</text><text x="44" y="320.3" text-anchor="end">150</text><text x="71.3" y="335.2" text-anchor="end">100</text><text x="97.9" y="352.5" text-anchor="end">50</text><text x="129.3" y="369.6" text-anchor="end">0</text><text x="159.9" y="382.7" text-anchor="end">-50</text><text x="185.3" y="397.2" text-anchor="end">-100</text><text x="214.9" y="412.2" text-anchor="end">-150</text><text x="235.6" y="415.5">-150</text><text x="273.8" y="405">-100</text><text x="313.1" y="392.4">-50</text><text x="355" y="379.7">0</text><text x="390.5" y="370">50</text><text x="432.2" y="355.3">100</text></g>
<g font-size="14"><text x="334.5" y="417.4">EW Distance, km</text><text x="80.2" y="414.5">NS Distance, km</text><text x="445" y="19.4">Reflectivity, dBZ</text><text transform="translate(20.1 241.6) rotate(-90)">Altitude, km</text></g></svg></body></html>
